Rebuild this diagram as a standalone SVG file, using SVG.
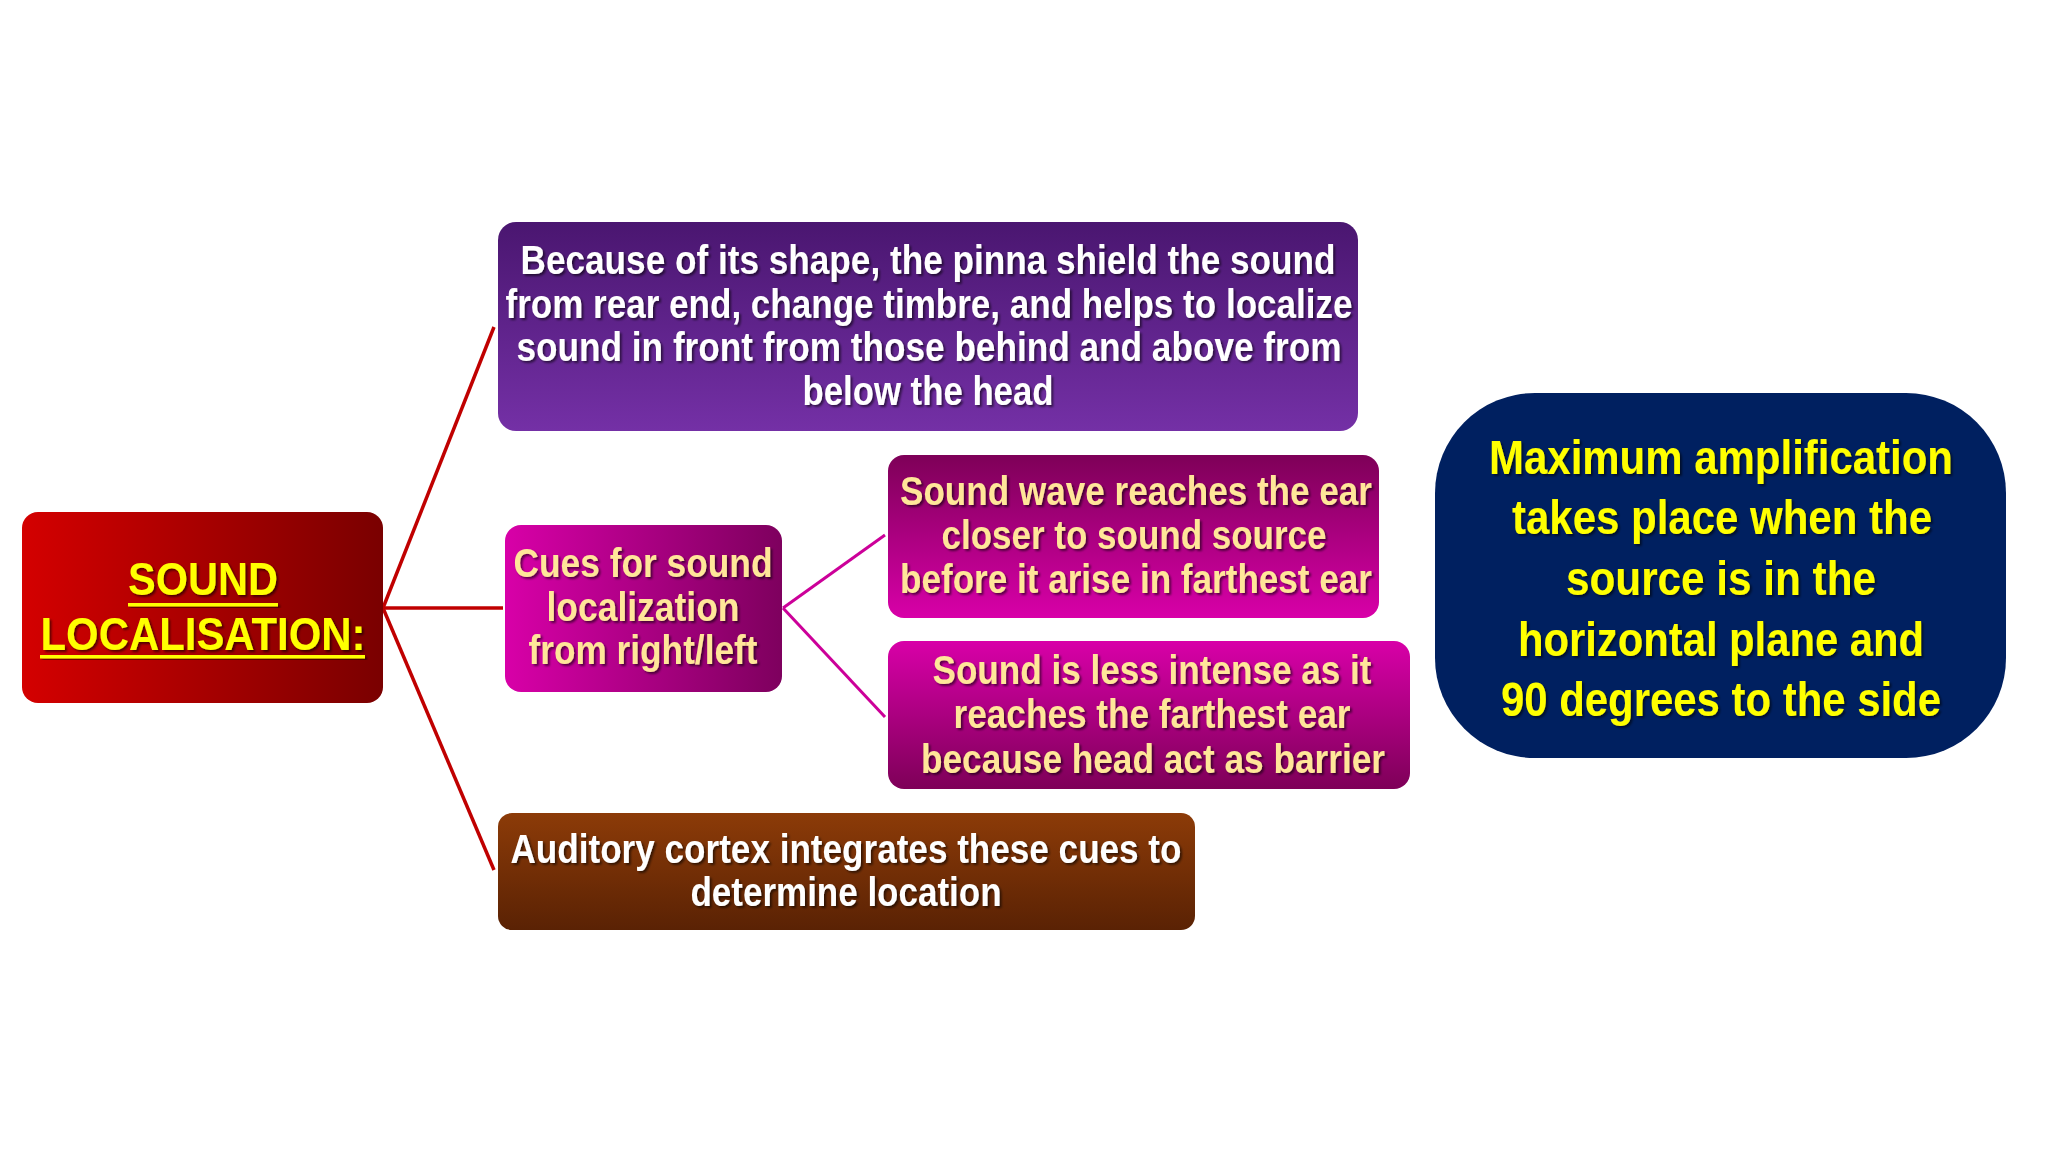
<svg xmlns="http://www.w3.org/2000/svg" width="2048" height="1152" viewBox="0 0 2048 1152">
<defs>
<linearGradient id="gRed" x1="0" y1="0" x2="1" y2="0"><stop offset="0" stop-color="#D40000"/><stop offset="1" stop-color="#7A0000"/></linearGradient>
<linearGradient id="gPurple" x1="0" y1="0" x2="0" y2="1"><stop offset="0" stop-color="#4A1670"/><stop offset="1" stop-color="#7430A6"/></linearGradient>
<linearGradient id="gCues" x1="0" y1="0" x2="1" y2="0"><stop offset="0" stop-color="#D800A8"/><stop offset="1" stop-color="#7E005E"/></linearGradient>
<linearGradient id="gWave" x1="0" y1="0" x2="0" y2="1"><stop offset="0" stop-color="#7E0058"/><stop offset="1" stop-color="#D800A8"/></linearGradient>
<linearGradient id="gLess" x1="0" y1="0" x2="0" y2="1"><stop offset="0" stop-color="#D800A8"/><stop offset="1" stop-color="#7E0058"/></linearGradient>
<linearGradient id="gBrown" x1="0" y1="0" x2="0" y2="1"><stop offset="0" stop-color="#8C3B08"/><stop offset="1" stop-color="#5A2204"/></linearGradient>
<filter id="sh" x="-5%" y="-20%" width="110%" height="150%"><feDropShadow dx="2" dy="2" stdDeviation="1" flood-color="#000" flood-opacity="0.55"/></filter>
</defs>
<style>
text{font-family:"Liberation Sans Narrow","Liberation Sans",Arial,sans-serif;font-weight:bold;text-anchor:middle;filter:url(#sh)}
.w{fill:#FFFFFF;font-size:41px}
.c{fill:#FFE699;font-size:41px}
.y{fill:#FFFF00;font-size:48px}
.t{fill:#FFFF00;font-size:47px}
.red{stroke:#C00000;stroke-width:3.5;fill:none}
.mag{stroke:#CC0099;stroke-width:3;fill:none}
</style>
<rect width="2048" height="1152" fill="#FFFFFF"/>
<g id="connectors">
<line class="red" x1="383" y1="608" x2="494" y2="327"/>
<line class="red" x1="383" y1="608" x2="503" y2="608"/>
<line class="red" x1="383" y1="608" x2="494" y2="870"/>
<line class="mag" x1="783" y1="608" x2="885" y2="535"/>
<line class="mag" x1="783" y1="608" x2="885" y2="717"/>
</g>
<g id="sound-localisation">
<rect x="22" y="512" width="361" height="191" rx="16" fill="url(#gRed)"/>
<text class="t" x="203" y="595" textLength="150" lengthAdjust="spacingAndGlyphs">SOUND</text>
<rect x="128" y="603" width="150" height="3.5" fill="#FFFF00" filter="url(#sh)"/>
<text class="t" x="203" y="650" textLength="325" lengthAdjust="spacingAndGlyphs">LOCALISATION:</text>
<rect x="40" y="655" width="325" height="3.5" fill="#FFFF00" filter="url(#sh)"/>
</g>
<g id="pinna">
<rect x="498" y="222" width="860" height="209" rx="18" fill="url(#gPurple)"/>
<text class="w" x="928" y="274" textLength="815" lengthAdjust="spacingAndGlyphs">Because of its shape, the pinna shield the sound</text>
<text class="w" x="929" y="318" textLength="847" lengthAdjust="spacingAndGlyphs">from rear end, change timbre, and helps to localize</text>
<text class="w" x="929" y="361" textLength="825" lengthAdjust="spacingAndGlyphs">sound in front from those behind and above from</text>
<text class="w" x="928" y="405" textLength="251" lengthAdjust="spacingAndGlyphs">below the head</text>
</g>
<g id="cues">
<rect x="505" y="525" width="277" height="167" rx="16" fill="url(#gCues)"/>
<text class="c" x="643" y="577" textLength="259" lengthAdjust="spacingAndGlyphs">Cues for sound</text>
<text class="c" x="643" y="621" textLength="193" lengthAdjust="spacingAndGlyphs">localization</text>
<text class="c" x="643" y="664" textLength="229" lengthAdjust="spacingAndGlyphs">from right/left</text>
</g>
<g id="sound-wave">
<rect x="888" y="455" width="491" height="163" rx="16" fill="url(#gWave)"/>
<text class="c" x="1136" y="505" textLength="472" lengthAdjust="spacingAndGlyphs">Sound wave reaches the ear</text>
<text class="c" x="1134" y="549" textLength="385" lengthAdjust="spacingAndGlyphs">closer to sound source</text>
<text class="c" x="1136" y="593" textLength="472" lengthAdjust="spacingAndGlyphs">before it arise in farthest ear</text>
</g>
<g id="less-intense">
<rect x="888" y="641" width="522" height="148" rx="16" fill="url(#gLess)"/>
<text class="c" x="1152" y="684" textLength="439" lengthAdjust="spacingAndGlyphs">Sound is less intense as it</text>
<text class="c" x="1152" y="728" textLength="397" lengthAdjust="spacingAndGlyphs">reaches the farthest ear</text>
<text class="c" x="1153" y="773" textLength="464" lengthAdjust="spacingAndGlyphs">because head act as barrier</text>
</g>
<g id="auditory-cortex">
<rect x="498" y="813" width="697" height="117" rx="14" fill="url(#gBrown)"/>
<text class="w" x="846" y="863" textLength="671" lengthAdjust="spacingAndGlyphs">Auditory cortex integrates these cues to</text>
<text class="w" x="846" y="906" textLength="311" lengthAdjust="spacingAndGlyphs">determine location</text>
</g>
<g id="maximum-amplification">
<rect x="1435" y="393" width="571" height="365" rx="100" fill="#002060"/>
<text class="y" x="1721" y="474" textLength="464" lengthAdjust="spacingAndGlyphs">Maximum amplification</text>
<text class="y" x="1722" y="534" textLength="420" lengthAdjust="spacingAndGlyphs">takes place when the</text>
<text class="y" x="1721" y="595" textLength="310" lengthAdjust="spacingAndGlyphs">source is in the</text>
<text class="y" x="1721" y="656" textLength="406" lengthAdjust="spacingAndGlyphs">horizontal plane and</text>
<text class="y" x="1721" y="716" textLength="440" lengthAdjust="spacingAndGlyphs">90 degrees to the side</text>
</g>
</svg>
